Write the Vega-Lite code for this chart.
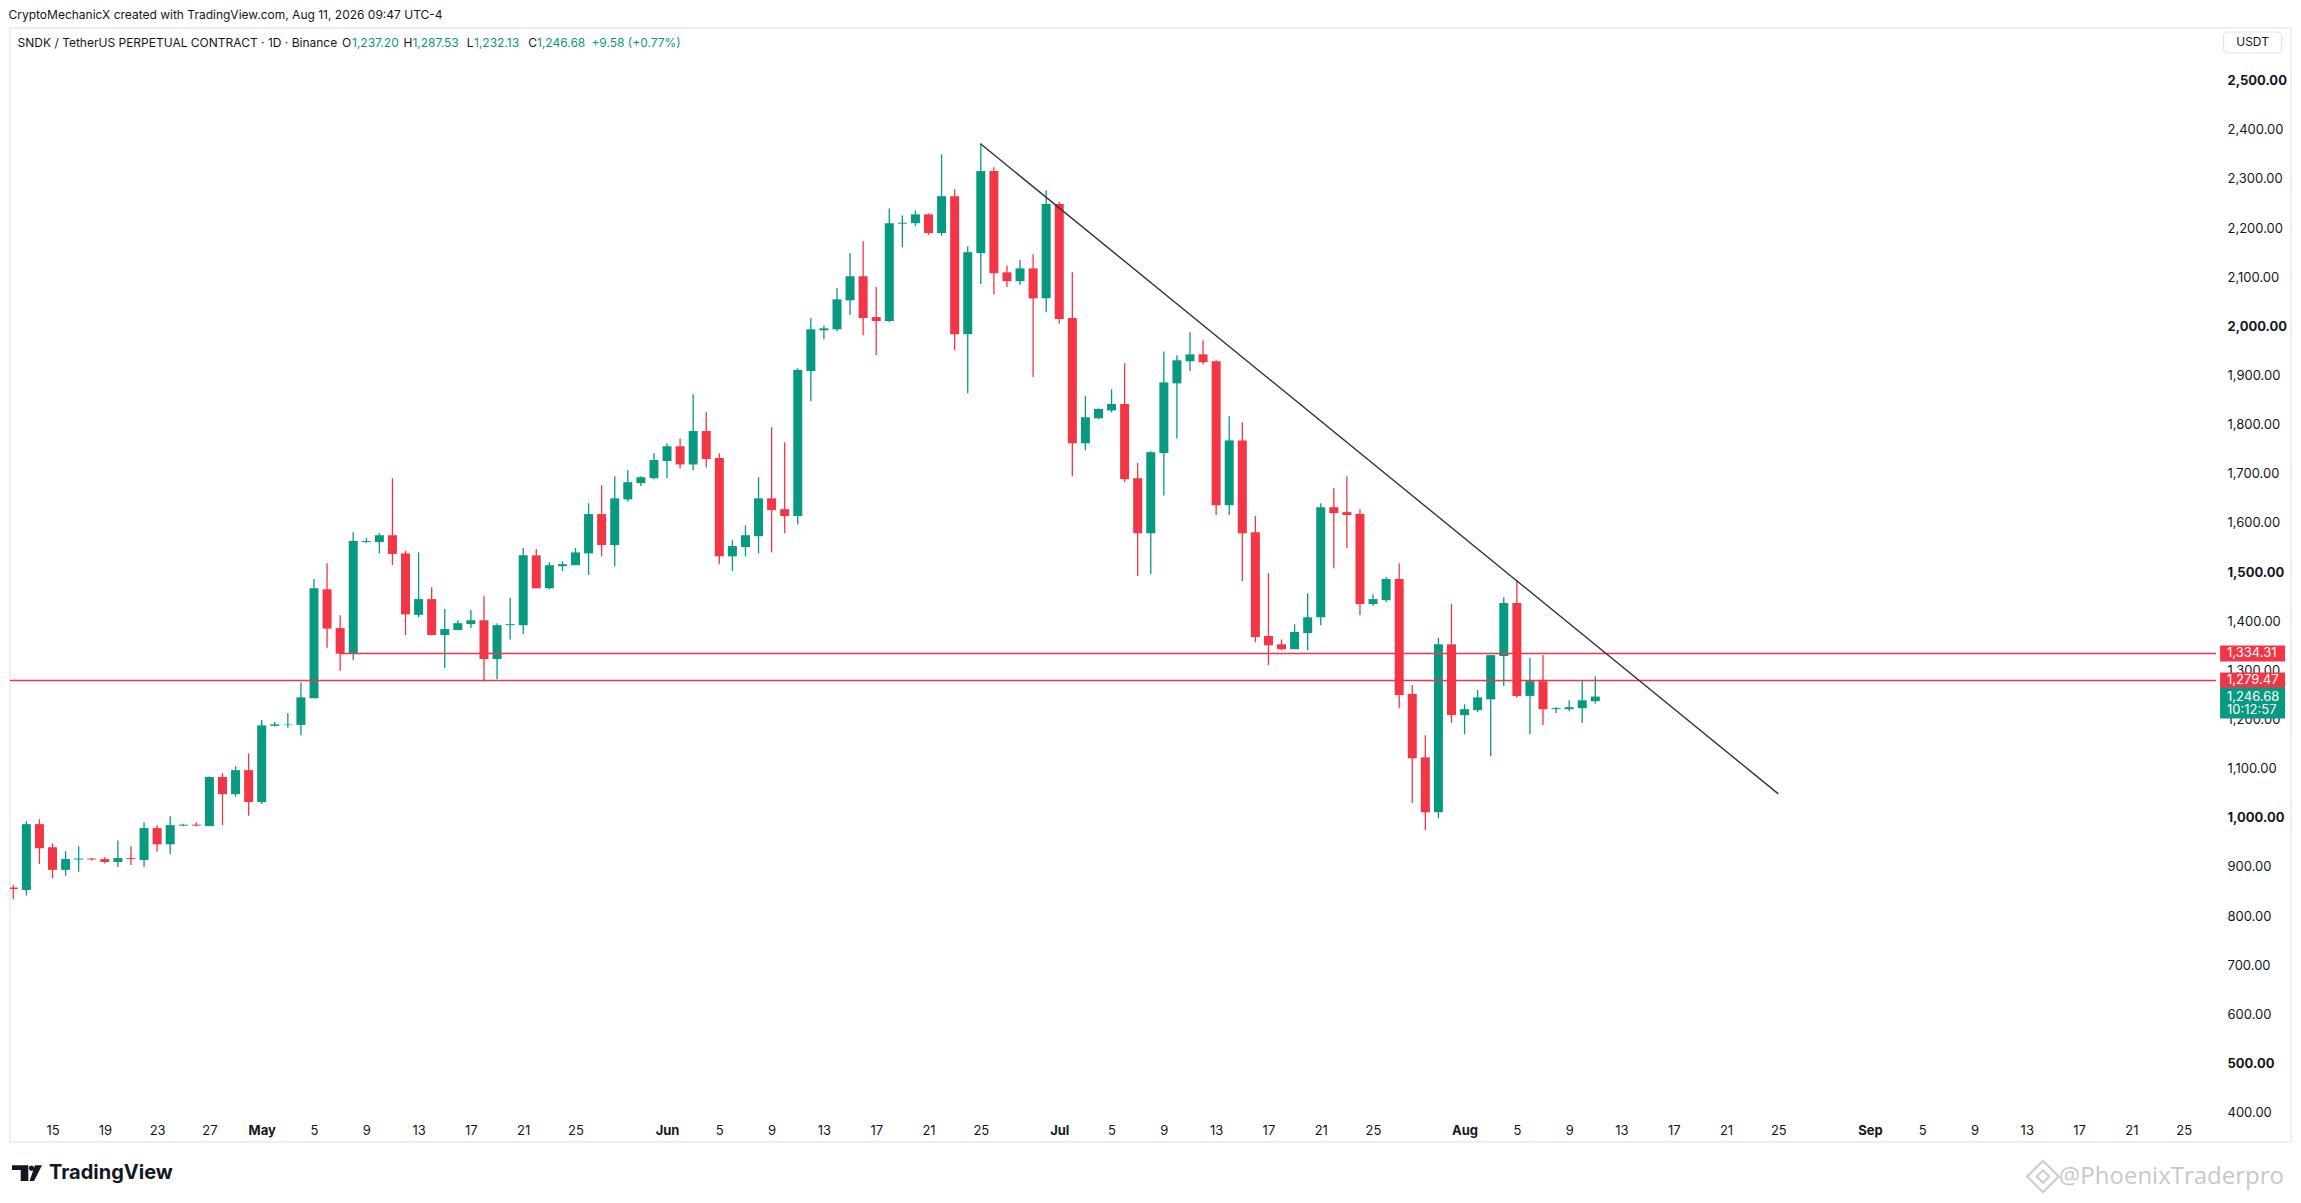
{
"$schema":"https://vega.github.io/schema/vega-lite/v6.json",
"width":2281,"height":1114,
"autosize":{"type":"none"},
"padding":{"left":10,"top":28,"right":10,"bottom":61},
"background":"white",
"config":{"view":{"stroke":"#eceff3","strokeWidth":2},"font":"Inter","axis":{"grid":false,"domain":false,"ticks":false,"title":null}},
"datasets":{
"candles":[
{"date":"2026-04-12","o":858,"h":863,"l":834,"c":855},
{"date":"2026-04-13","o":853,"h":993,"l":842,"c":987},
{"date":"2026-04-14","o":987,"h":997,"l":906,"c":938},
{"date":"2026-04-15","o":940,"h":948,"l":877,"c":894},
{"date":"2026-04-16","o":894,"h":932,"l":882,"c":916},
{"date":"2026-04-17","o":915,"h":942,"l":890,"c":917},
{"date":"2026-04-18","o":917,"h":918,"l":913,"c":915},
{"date":"2026-04-19","o":916,"h":920,"l":907,"c":910},
{"date":"2026-04-20","o":910,"h":954,"l":900,"c":918},
{"date":"2026-04-21","o":918,"h":942,"l":904,"c":916},
{"date":"2026-04-22","o":914,"h":991,"l":900,"c":979},
{"date":"2026-04-23","o":979,"h":985,"l":931,"c":946},
{"date":"2026-04-24","o":946,"h":1003,"l":926,"c":985},
{"date":"2026-04-25","o":984,"h":988,"l":983,"c":986},
{"date":"2026-04-26","o":986,"h":991,"l":983,"c":984},
{"date":"2026-04-27","o":983,"h":1084,"l":983,"c":1083},
{"date":"2026-04-28","o":1083,"h":1091,"l":985,"c":1048},
{"date":"2026-04-29","o":1048,"h":1105,"l":1043,"c":1097},
{"date":"2026-04-30","o":1097,"h":1131,"l":1004,"c":1032},
{"date":"2026-05-01","o":1032,"h":1199,"l":1028,"c":1188},
{"date":"2026-05-02","o":1187,"h":1195,"l":1186,"c":1190},
{"date":"2026-05-03","o":1189,"h":1213,"l":1183,"c":1190},
{"date":"2026-05-04","o":1189,"h":1276,"l":1168,"c":1245},
{"date":"2026-05-05","o":1243,"h":1486,"l":1243,"c":1467},
{"date":"2026-05-06","o":1465,"h":1518,"l":1346,"c":1385},
{"date":"2026-05-07","o":1386,"h":1412,"l":1299,"c":1334},
{"date":"2026-05-08","o":1334,"h":1581,"l":1321,"c":1563},
{"date":"2026-05-09","o":1561,"h":1569,"l":1559,"c":1563},
{"date":"2026-05-10","o":1561,"h":1579,"l":1538,"c":1575},
{"date":"2026-05-11","o":1575,"h":1691,"l":1514,"c":1537},
{"date":"2026-05-12","o":1538,"h":1544,"l":1372,"c":1414},
{"date":"2026-05-13","o":1413,"h":1540,"l":1408,"c":1445},
{"date":"2026-05-14","o":1445,"h":1469,"l":1371,"c":1372},
{"date":"2026-05-15","o":1372,"h":1425,"l":1305,"c":1384},
{"date":"2026-05-16","o":1382,"h":1402,"l":1382,"c":1396},
{"date":"2026-05-17","o":1394,"h":1423,"l":1386,"c":1402},
{"date":"2026-05-18","o":1402,"h":1451,"l":1279,"c":1323},
{"date":"2026-05-19","o":1323,"h":1396,"l":1282,"c":1392},
{"date":"2026-05-20","o":1392,"h":1447,"l":1363,"c":1394},
{"date":"2026-05-21","o":1392,"h":1549,"l":1374,"c":1534},
{"date":"2026-05-22","o":1534,"h":1547,"l":1467,"c":1467},
{"date":"2026-05-23","o":1467,"h":1520,"l":1465,"c":1514},
{"date":"2026-05-24","o":1512,"h":1522,"l":1502,"c":1516},
{"date":"2026-05-25","o":1514,"h":1549,"l":1514,"c":1540},
{"date":"2026-05-26","o":1538,"h":1640,"l":1494,"c":1618},
{"date":"2026-05-27","o":1618,"h":1677,"l":1532,"c":1555},
{"date":"2026-05-28","o":1555,"h":1695,"l":1512,"c":1650},
{"date":"2026-05-29","o":1648,"h":1707,"l":1643,"c":1683},
{"date":"2026-05-30","o":1681,"h":1695,"l":1675,"c":1693},
{"date":"2026-05-31","o":1691,"h":1742,"l":1689,"c":1728},
{"date":"2026-06-01","o":1726,"h":1762,"l":1691,"c":1756},
{"date":"2026-06-02","o":1756,"h":1772,"l":1711,"c":1719},
{"date":"2026-06-03","o":1719,"h":1862,"l":1707,"c":1787},
{"date":"2026-06-04","o":1787,"h":1825,"l":1713,"c":1730},
{"date":"2026-06-05","o":1732,"h":1742,"l":1516,"c":1532},
{"date":"2026-06-06","o":1532,"h":1565,"l":1502,"c":1553},
{"date":"2026-06-07","o":1551,"h":1595,"l":1532,"c":1575},
{"date":"2026-06-08","o":1573,"h":1693,"l":1538,"c":1650},
{"date":"2026-06-09","o":1650,"h":1795,"l":1540,"c":1626},
{"date":"2026-06-10","o":1628,"h":1764,"l":1579,"c":1614},
{"date":"2026-06-11","o":1614,"h":1915,"l":1597,"c":1911},
{"date":"2026-06-12","o":1909,"h":2017,"l":1848,"c":1994},
{"date":"2026-06-13","o":1992,"h":2002,"l":1974,"c":1996},
{"date":"2026-06-14","o":1994,"h":2078,"l":1990,"c":2055},
{"date":"2026-06-15","o":2053,"h":2149,"l":2023,"c":2102},
{"date":"2026-06-16","o":2102,"h":2173,"l":1982,"c":2017},
{"date":"2026-06-17","o":2019,"h":2080,"l":1941,"c":2011},
{"date":"2026-06-18","o":2011,"h":2240,"l":2009,"c":2210},
{"date":"2026-06-19","o":2209,"h":2226,"l":2161,"c":2211},
{"date":"2026-06-20","o":2210,"h":2236,"l":2204,"c":2228},
{"date":"2026-06-21","o":2228,"h":2230,"l":2186,"c":2190},
{"date":"2026-06-22","o":2190,"h":2350,"l":2184,"c":2265},
{"date":"2026-06-23","o":2265,"h":2279,"l":1952,"c":1984},
{"date":"2026-06-24","o":1984,"h":2163,"l":1864,"c":2151},
{"date":"2026-06-25","o":2149,"h":2373,"l":2086,"c":2316},
{"date":"2026-06-26","o":2316,"h":2324,"l":2065,"c":2108},
{"date":"2026-06-27","o":2110,"h":2124,"l":2080,"c":2092},
{"date":"2026-06-28","o":2092,"h":2135,"l":2084,"c":2118},
{"date":"2026-06-29","o":2118,"h":2147,"l":1897,"c":2057},
{"date":"2026-06-30","o":2057,"h":2277,"l":2029,"c":2249},
{"date":"2026-07-01","o":2249,"h":2253,"l":2006,"c":2015},
{"date":"2026-07-02","o":2017,"h":2110,"l":1695,"c":1762},
{"date":"2026-07-03","o":1762,"h":1858,"l":1748,"c":1815},
{"date":"2026-07-04","o":1813,"h":1833,"l":1811,"c":1832},
{"date":"2026-07-05","o":1829,"h":1872,"l":1825,"c":1842},
{"date":"2026-07-06","o":1842,"h":1925,"l":1683,"c":1689},
{"date":"2026-07-07","o":1691,"h":1722,"l":1492,"c":1579},
{"date":"2026-07-08","o":1579,"h":1746,"l":1496,"c":1744},
{"date":"2026-07-09","o":1742,"h":1949,"l":1656,"c":1886},
{"date":"2026-07-10","o":1884,"h":1941,"l":1772,"c":1931},
{"date":"2026-07-11","o":1929,"h":1988,"l":1909,"c":1943},
{"date":"2026-07-12","o":1943,"h":1972,"l":1923,"c":1927},
{"date":"2026-07-13","o":1929,"h":1931,"l":1616,"c":1636},
{"date":"2026-07-14","o":1636,"h":1817,"l":1616,"c":1768},
{"date":"2026-07-15","o":1768,"h":1805,"l":1482,"c":1579},
{"date":"2026-07-16","o":1581,"h":1614,"l":1357,"c":1368},
{"date":"2026-07-17","o":1370,"h":1498,"l":1311,"c":1351},
{"date":"2026-07-18","o":1353,"h":1363,"l":1341,"c":1343},
{"date":"2026-07-19","o":1343,"h":1394,"l":1343,"c":1378},
{"date":"2026-07-20","o":1376,"h":1457,"l":1341,"c":1408},
{"date":"2026-07-21","o":1408,"h":1640,"l":1392,"c":1632},
{"date":"2026-07-22","o":1632,"h":1671,"l":1508,"c":1620},
{"date":"2026-07-23","o":1622,"h":1695,"l":1549,"c":1616},
{"date":"2026-07-24","o":1618,"h":1628,"l":1412,"c":1435},
{"date":"2026-07-25","o":1435,"h":1455,"l":1431,"c":1445},
{"date":"2026-07-26","o":1443,"h":1490,"l":1439,"c":1486},
{"date":"2026-07-27","o":1486,"h":1518,"l":1223,"c":1250},
{"date":"2026-07-28","o":1252,"h":1270,"l":1030,"c":1121},
{"date":"2026-07-29","o":1123,"h":1168,"l":975,"c":1011},
{"date":"2026-07-30","o":1011,"h":1366,"l":999,"c":1353},
{"date":"2026-07-31","o":1353,"h":1435,"l":1193,"c":1209},
{"date":"2026-08-01","o":1209,"h":1231,"l":1170,"c":1221},
{"date":"2026-08-02","o":1219,"h":1260,"l":1215,"c":1245},
{"date":"2026-08-03","o":1241,"h":1331,"l":1125,"c":1331},
{"date":"2026-08-04","o":1329,"h":1449,"l":1268,"c":1437},
{"date":"2026-08-05","o":1437,"h":1484,"l":1244,"c":1248},
{"date":"2026-08-06","o":1248,"h":1325,"l":1170,"c":1278},
{"date":"2026-08-07","o":1278,"h":1331,"l":1189,"c":1221},
{"date":"2026-08-08","o":1221,"h":1225,"l":1213,"c":1223},
{"date":"2026-08-09","o":1221,"h":1239,"l":1217,"c":1225},
{"date":"2026-08-10","o":1223,"h":1280,"l":1193,"c":1239},
{"date":"2026-08-11","o":1237.2,"h":1287.53,"l":1232.13,"c":1246.68}
],
"levels":[
{"price":1334.31,"start":"2026-05-07","end":"2026-09-27T11:30:00Z"},
{"price":1279.47,"start":"2026-04-11","end":"2026-09-27T11:30:00Z"}
],
"trend":[
{"date":"2026-06-25","price":2371},
{"date":"2026-08-25","price":1048.6}
]
},
"layer":[
{"data":{"name":"candles"},
"mark":{"type":"rule","strokeWidth":1.3,"clip":true},
"encoding":{
"x":{"field":"date","type":"temporal",
"scale":{"type":"utc","domain":[1775930227200,1791003744000],"nice":false,"padding":0},
"axis":{"orient":"bottom","offset":-27,"zindex":1,"labelPadding":15,"labelBaseline":"middle","labelFontSize":13,"labelColor":"#131722","labelFont":"Inter","labelOverlap":false,"labelBound":false,"labelFlush":false,
"labelFontWeight":{"condition":{"test":"utcdate(datum.value) == 1","value":"bold"},"value":"normal"},
"labelExpr":"utcdate(datum.value) == 1 ? utcFormat(datum.value, '%b') : utcFormat(datum.value, '%-d')",
"values":[
{"year":2026,"month":4,"date":15,"utc":true},{"year":2026,"month":4,"date":19,"utc":true},{"year":2026,"month":4,"date":23,"utc":true},{"year":2026,"month":4,"date":27,"utc":true},
{"year":2026,"month":5,"date":1,"utc":true},{"year":2026,"month":5,"date":5,"utc":true},{"year":2026,"month":5,"date":9,"utc":true},{"year":2026,"month":5,"date":13,"utc":true},{"year":2026,"month":5,"date":17,"utc":true},{"year":2026,"month":5,"date":21,"utc":true},{"year":2026,"month":5,"date":25,"utc":true},
{"year":2026,"month":6,"date":1,"utc":true},{"year":2026,"month":6,"date":5,"utc":true},{"year":2026,"month":6,"date":9,"utc":true},{"year":2026,"month":6,"date":13,"utc":true},{"year":2026,"month":6,"date":17,"utc":true},{"year":2026,"month":6,"date":21,"utc":true},{"year":2026,"month":6,"date":25,"utc":true},
{"year":2026,"month":7,"date":1,"utc":true},{"year":2026,"month":7,"date":5,"utc":true},{"year":2026,"month":7,"date":9,"utc":true},{"year":2026,"month":7,"date":13,"utc":true},{"year":2026,"month":7,"date":17,"utc":true},{"year":2026,"month":7,"date":21,"utc":true},{"year":2026,"month":7,"date":25,"utc":true},
{"year":2026,"month":8,"date":1,"utc":true},{"year":2026,"month":8,"date":5,"utc":true},{"year":2026,"month":8,"date":9,"utc":true},{"year":2026,"month":8,"date":13,"utc":true},{"year":2026,"month":8,"date":17,"utc":true},{"year":2026,"month":8,"date":21,"utc":true},{"year":2026,"month":8,"date":25,"utc":true},
{"year":2026,"month":9,"date":1,"utc":true},{"year":2026,"month":9,"date":5,"utc":true},{"year":2026,"month":9,"date":9,"utc":true},{"year":2026,"month":9,"date":13,"utc":true},{"year":2026,"month":9,"date":17,"utc":true},{"year":2026,"month":9,"date":21,"utc":true},{"year":2026,"month":9,"date":25,"utc":true}
]}},
"y":{"field":"l","type":"quantitative",
"scale":{"domain":[340.2,2607.2],"nice":false,"zero":false},
"axis":{"orient":"right","offset":-75,"zindex":0,"labelPadding":11,"labelAlign":"left","labelBaseline":"middle","labelFontSize":13,"labelColor":"#131722","labelFont":"Inter","format":",.2f","labelOverlap":false,"labelBound":false,"labelFlush":false,
"labelFontWeight":{"condition":{"test":"datum.value % 500 === 0","value":"bold"},"value":"normal"},
"values":[400,500,600,700,800,900,1000,1100,1200,1300,1400,1500,1600,1700,1800,1900,2000,2100,2200,2300,2400,2500]}},
"y2":{"field":"h"},
"color":{"condition":{"test":"datum.c >= datum.o","value":"#089981"},"value":"#F23645"}
}},
{"data":{"name":"candles"},
"mark":{"type":"bar","width":9,"clip":true},
"encoding":{
"x":{"field":"date","type":"temporal","scale":{"type":"utc","domain":[1775930227200,1791003744000],"nice":false,"padding":0}},
"y":{"field":"o","type":"quantitative","scale":{"domain":[340.2,2607.2],"nice":false,"zero":false}},
"y2":{"field":"c"},
"color":{"condition":{"test":"datum.c >= datum.o","value":"#089981"},"value":"#F23645"}
}},
{"data":{"name":"levels"},
"mark":{"type":"rule","color":"#F23645","strokeWidth":1.4,"clip":true},
"encoding":{
"x":{"field":"start","type":"temporal","scale":{"type":"utc","domain":[1775930227200,1791003744000],"nice":false,"padding":0}},
"x2":{"field":"end"},
"y":{"field":"price","type":"quantitative","scale":{"domain":[340.2,2607.2],"nice":false,"zero":false}}
}},
{"data":{"name":"trend"},
"mark":{"type":"line","color":"#30333d","strokeWidth":1.4},
"encoding":{
"x":{"field":"date","type":"temporal","scale":{"type":"utc","domain":[1775930227200,1791003744000],"nice":false,"padding":0}},
"y":{"field":"price","type":"quantitative","scale":{"domain":[340.2,2607.2],"nice":false,"zero":false}}
}},
{"data":{"values":[{"price":1334.31,"label":"1,334.31"},{"price":1279.47,"label":"1,279.47"}]},
"mark":{"type":"rect","width":65,"height":16,"xOffset":36.5,"color":"#F23645"},
"encoding":{
"x":{"datum":{"year":2026,"month":9,"date":27,"hours":11,"minutes":30,"utc":true},"type":"temporal","scale":{"type":"utc","domain":[1775930227200,1791003744000],"nice":false,"padding":0}},
"y":{"field":"price","type":"quantitative","scale":{"domain":[340.2,2607.2],"nice":false,"zero":false}}
}},
{"data":{"values":[{"price":1246.68,"label":"1,246.68"}]},
"mark":{"type":"rect","width":65,"height":31,"xOffset":36.5,"yOffset":6.5,"color":"#089981"},
"encoding":{
"x":{"datum":{"year":2026,"month":9,"date":27,"hours":11,"minutes":30,"utc":true},"type":"temporal","scale":{"type":"utc","domain":[1775930227200,1791003744000],"nice":false,"padding":0}},
"y":{"field":"price","type":"quantitative","scale":{"domain":[340.2,2607.2],"nice":false,"zero":false}}
}},
{"data":{"values":[{"price":1334.31,"label":"1,334.31"},{"price":1279.47,"label":"1,279.47"},{"price":1246.68,"label":"1,246.68"}]},
"mark":{"type":"text","align":"left","baseline":"middle","dx":11,"fontSize":13,"font":"Inter","color":"white"},
"encoding":{
"x":{"datum":{"year":2026,"month":9,"date":27,"hours":11,"minutes":30,"utc":true},"type":"temporal","scale":{"type":"utc","domain":[1775930227200,1791003744000],"nice":false,"padding":0}},
"y":{"field":"price","type":"quantitative","scale":{"domain":[340.2,2607.2],"nice":false,"zero":false}},
"text":{"field":"label"}
}},
{"data":{"values":[{"price":1246.68,"label":"10:12:57"}]},
"mark":{"type":"text","align":"left","baseline":"middle","dx":11,"dy":13,"fontSize":13,"font":"Inter","color":"white"},
"encoding":{
"x":{"datum":{"year":2026,"month":9,"date":27,"hours":11,"minutes":30,"utc":true},"type":"temporal","scale":{"type":"utc","domain":[1775930227200,1791003744000],"nice":false,"padding":0}},
"y":{"field":"price","type":"quantitative","scale":{"domain":[340.2,2607.2],"nice":false,"zero":false}},
"text":{"field":"label"}
}},
{"data":{"values":[{"price":2577.7,"label":"USDT"}]},
"mark":{"type":"rect","width":58,"height":21,"xOffset":36.5,"fill":"white","stroke":"#e0e3eb","strokeWidth":1.2,"cornerRadius":4},
"encoding":{
"x":{"datum":{"year":2026,"month":9,"date":27,"hours":11,"minutes":30,"utc":true},"type":"temporal","scale":{"type":"utc","domain":[1775930227200,1791003744000],"nice":false,"padding":0}},
"y":{"field":"price","type":"quantitative","scale":{"domain":[340.2,2607.2],"nice":false,"zero":false}}
}},
{"data":{"values":[{"price":2577.7,"label":"USDT"}]},
"mark":{"type":"text","align":"center","baseline":"middle","dx":36.5,"fontSize":12,"font":"Inter","color":"#131722"},
"encoding":{
"x":{"datum":{"year":2026,"month":9,"date":27,"hours":11,"minutes":30,"utc":true},"type":"temporal","scale":{"type":"utc","domain":[1775930227200,1791003744000],"nice":false,"padding":0}},
"y":{"field":"price","type":"quantitative","scale":{"domain":[340.2,2607.2],"nice":false,"zero":false}},
"text":{"field":"label"}
}},
{"data":{"values":[
{"t":"CryptoMechanicX created with TradingView.com, Aug 11, 2026 09:47 UTC-4"}]},
"mark":{"type":"text","align":"left","baseline":"middle","dx":-1.5,"dy":-13.3,"fontSize":12,"font":"Inter","color":"#131722"},
"encoding":{
"x":{"datum":1775930227200,"type":"temporal","scale":{"type":"utc","domain":[1775930227200,1791003744000],"nice":false,"padding":0}},
"y":{"datum":2607.2,"type":"quantitative","scale":{"domain":[340.2,2607.2],"nice":false,"zero":false}},
"text":{"field":"t"}
}},
{"data":{"values":[{"t":"SNDK / TetherUS PERPETUAL CONTRACT · 1D · Binance"}]},
"mark":{"type":"text","align":"left","baseline":"middle","dx":7.6,"dy":14.6,"fontSize":12,"font":"Inter","color":"#131722"},
"encoding":{
"x":{"datum":1775930227200,"type":"temporal","scale":{"type":"utc","domain":[1775930227200,1791003744000],"nice":false,"padding":0}},
"y":{"datum":2607.2,"type":"quantitative","scale":{"domain":[340.2,2607.2],"nice":false,"zero":false}},
"text":{"field":"t"}
}},
{"data":{"values":[{"t":"O"}]},
"mark":{"type":"text","align":"left","baseline":"middle","dx":332,"dy":14.6,"fontSize":12,"font":"Inter","color":"#131722"},
"encoding":{"x":{"datum":1775930227200,"type":"temporal","scale":{"type":"utc","domain":[1775930227200,1791003744000],"nice":false,"padding":0}},"y":{"datum":2607.2,"type":"quantitative","scale":{"domain":[340.2,2607.2],"nice":false,"zero":false}},"text":{"field":"t"}}},
{"data":{"values":[{"t":"1,237.20"}]},
"mark":{"type":"text","align":"left","baseline":"middle","dx":342,"dy":14.6,"fontSize":12,"font":"Inter","color":"#089981"},
"encoding":{"x":{"datum":1775930227200,"type":"temporal","scale":{"type":"utc","domain":[1775930227200,1791003744000],"nice":false,"padding":0}},"y":{"datum":2607.2,"type":"quantitative","scale":{"domain":[340.2,2607.2],"nice":false,"zero":false}},"text":{"field":"t"}}},
{"data":{"values":[{"t":"H"}]},
"mark":{"type":"text","align":"left","baseline":"middle","dx":393.6,"dy":14.6,"fontSize":12,"font":"Inter","color":"#131722"},
"encoding":{"x":{"datum":1775930227200,"type":"temporal","scale":{"type":"utc","domain":[1775930227200,1791003744000],"nice":false,"padding":0}},"y":{"datum":2607.2,"type":"quantitative","scale":{"domain":[340.2,2607.2],"nice":false,"zero":false}},"text":{"field":"t"}}},
{"data":{"values":[{"t":"1,287.53"}]},
"mark":{"type":"text","align":"left","baseline":"middle","dx":402.4,"dy":14.6,"fontSize":12,"font":"Inter","color":"#089981"},
"encoding":{"x":{"datum":1775930227200,"type":"temporal","scale":{"type":"utc","domain":[1775930227200,1791003744000],"nice":false,"padding":0}},"y":{"datum":2607.2,"type":"quantitative","scale":{"domain":[340.2,2607.2],"nice":false,"zero":false}},"text":{"field":"t"}}},
{"data":{"values":[{"t":"L"}]},
"mark":{"type":"text","align":"left","baseline":"middle","dx":456.7,"dy":14.6,"fontSize":12,"font":"Inter","color":"#131722"},
"encoding":{"x":{"datum":1775930227200,"type":"temporal","scale":{"type":"utc","domain":[1775930227200,1791003744000],"nice":false,"padding":0}},"y":{"datum":2607.2,"type":"quantitative","scale":{"domain":[340.2,2607.2],"nice":false,"zero":false}},"text":{"field":"t"}}},
{"data":{"values":[{"t":"1,232.13"}]},
"mark":{"type":"text","align":"left","baseline":"middle","dx":464,"dy":14.6,"fontSize":12,"font":"Inter","color":"#089981"},
"encoding":{"x":{"datum":1775930227200,"type":"temporal","scale":{"type":"utc","domain":[1775930227200,1791003744000],"nice":false,"padding":0}},"y":{"datum":2607.2,"type":"quantitative","scale":{"domain":[340.2,2607.2],"nice":false,"zero":false}},"text":{"field":"t"}}},
{"data":{"values":[{"t":"C"}]},
"mark":{"type":"text","align":"left","baseline":"middle","dx":518.3,"dy":14.6,"fontSize":12,"font":"Inter","color":"#131722"},
"encoding":{"x":{"datum":1775930227200,"type":"temporal","scale":{"type":"utc","domain":[1775930227200,1791003744000],"nice":false,"padding":0}},"y":{"datum":2607.2,"type":"quantitative","scale":{"domain":[340.2,2607.2],"nice":false,"zero":false}},"text":{"field":"t"}}},
{"data":{"values":[{"t":"1,246.68"}]},
"mark":{"type":"text","align":"left","baseline":"middle","dx":527,"dy":14.6,"fontSize":12,"font":"Inter","color":"#089981"},
"encoding":{"x":{"datum":1775930227200,"type":"temporal","scale":{"type":"utc","domain":[1775930227200,1791003744000],"nice":false,"padding":0}},"y":{"datum":2607.2,"type":"quantitative","scale":{"domain":[340.2,2607.2],"nice":false,"zero":false}},"text":{"field":"t"}}},
{"data":{"values":[{"t":"+9.58 (+0.77%)"}]},
"mark":{"type":"text","align":"left","baseline":"middle","dx":581.4,"dy":14.6,"fontSize":12,"font":"Inter","color":"#089981"},
"encoding":{"x":{"datum":1775930227200,"type":"temporal","scale":{"type":"utc","domain":[1775930227200,1791003744000],"nice":false,"padding":0}},"y":{"datum":2607.2,"type":"quantitative","scale":{"domain":[340.2,2607.2],"nice":false,"zero":false}},"text":{"field":"t"}}},
{"data":{"values":[{"t":"logo"}]},
"mark":{"type":"point","filled":true,"color":"#131722","opacity":1,"size":900,"strokeWidth":0,"xOffset":17,"yOffset":31.2,
"shape":"M-1,-0.523 L0.087,-0.523 L0.087,0.523 L-0.42,0.523 L-0.42,-0.21 L-1,-0.21 Z M0.473,-0.337 A0.173,0.173 0 1 1 0.127,-0.337 A0.173,0.173 0 1 1 0.473,-0.337 Z M0.533,-0.523 L1,-0.523 L0.467,0.523 L0.167,0.523 Z"},
"encoding":{"x":{"datum":1775930227200,"type":"temporal","scale":{"type":"utc","domain":[1775930227200,1791003744000],"nice":false,"padding":0}},"y":{"datum":340.2,"type":"quantitative","scale":{"domain":[340.2,2607.2],"nice":false,"zero":false}}}},
{"data":{"values":[{"t":"TradingView"}]},
"mark":{"type":"text","align":"left","baseline":"middle","dx":39,"dy":31,"fontSize":20,"fontWeight":"bold","font":"Inter","color":"#131722"},
"encoding":{"x":{"datum":1775930227200,"type":"temporal","scale":{"type":"utc","domain":[1775930227200,1791003744000],"nice":false,"padding":0}},"y":{"datum":340.2,"type":"quantitative","scale":{"domain":[340.2,2607.2],"nice":false,"zero":false}},"text":{"field":"t"}}},
{"data":{"values":[{"t":"@PhoenixTraderpro"}]},
"mark":{"type":"text","align":"right","baseline":"middle","dx":-7,"dy":35,"fontSize":24,"font":"Open Sans","color":"#c8c8c8"},
"encoding":{"x":{"datum":1791003744000,"type":"temporal","scale":{"type":"utc","domain":[1775930227200,1791003744000],"nice":false,"padding":0}},"y":{"datum":340.2,"type":"quantitative","scale":{"domain":[340.2,2607.2],"nice":false,"zero":false}},"text":{"field":"t"}}},
{"data":{"values":[{"t":"icon"}]},
"mark":{"type":"point","shape":"diamond","filled":false,"color":"#cccccc","size":1000,"strokeWidth":2,"opacity":1,"xOffset":-248,"yOffset":34.5},
"encoding":{"x":{"datum":1791003744000,"type":"temporal","scale":{"type":"utc","domain":[1775930227200,1791003744000],"nice":false,"padding":0}},"y":{"datum":340.2,"type":"quantitative","scale":{"domain":[340.2,2607.2],"nice":false,"zero":false}}}},
{"data":{"values":[{"t":"icon"}]},
"mark":{"type":"point","shape":"diamond","filled":false,"color":"#cccccc","size":160,"strokeWidth":2,"opacity":1,"xOffset":-248,"yOffset":34.5},
"encoding":{"x":{"datum":1791003744000,"type":"temporal","scale":{"type":"utc","domain":[1775930227200,1791003744000],"nice":false,"padding":0}},"y":{"datum":340.2,"type":"quantitative","scale":{"domain":[340.2,2607.2],"nice":false,"zero":false}}}}
]
}
